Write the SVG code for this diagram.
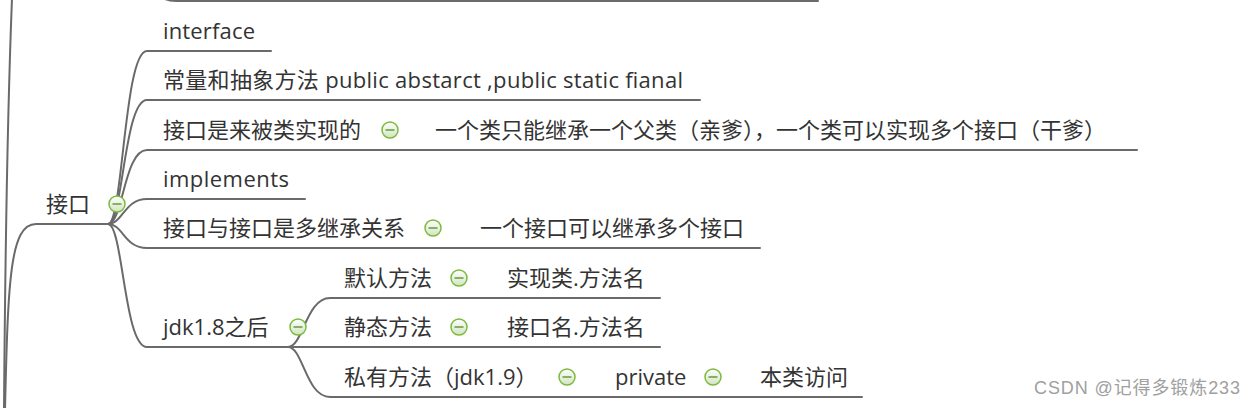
<svg xmlns="http://www.w3.org/2000/svg" width="1257" height="408" viewBox="0 0 1257 408">
<defs>
<linearGradient id="ig" x1="0" y1="0" x2="0" y2="1">
<stop offset="0" stop-color="#ffffff"/>
<stop offset="1" stop-color="#d2e4c0"/>
</linearGradient>
<g id="icon">
<circle cx="0" cy="0" r="8" fill="url(#ig)" stroke="#7cba3f" stroke-width="1.5"/>
<line x1="-4.5" y1="0" x2="4.5" y2="0" stroke="#4f8f25" stroke-width="1.3"/>
</g>
</defs>
<style>
.t{font-family:"Open Sans","Noto Sans CJK SC",sans-serif;font-size:22px;fill:#333333}
.c{fill:none;stroke:#6a6a6a;stroke-width:2;stroke-linecap:round}
.w{font-family:"Liberation Sans","Noto Sans CJK SC",sans-serif;font-size:18px;fill:#a0a0a0}
</style>
<rect width="1257" height="408" fill="#ffffff"/>
<g id="connectors">
<path class="c" d="M12 -2 Q6 150 4 410"/>
<path class="c" d="M158 -6 Q164 1 176 1 L818 1"/>
<path class="c" d="M5 410 C8 280 10 224 36 224 L108 224"/>
<path class="c" d="M108 224 C123 224 124 51 147 51 L271 51"/>
<path class="c" d="M108 224 C123 224 124 100 147 100 L700 100"/>
<path class="c" d="M108 224 C123 224 124 150 147 150 L1137 150"/>
<path class="c" d="M108 224 C123 224 124 199 147 199 L305 199"/>
<path class="c" d="M108 224 C123 224 124 248 147 248 L760 248"/>
<path class="c" d="M108 224 C123 224 124 347 147 347 L288 347"/>
<path class="c" d="M288 347 C303 347 306 298 330 298 L660 298"/>
<path class="c" d="M288 347 L660 347"/>
<path class="c" d="M288 347 C303 347 306 397 330 397 L862 397"/>
</g>
<g id="node-root">
<text class="t" x="46" y="212">接口</text>
<use href="#icon" x="117" y="204"/>
</g>
<g id="node-interface">
<text class="t" x="163" y="39" textLength="92">interface</text>
</g>
<g id="node-const">
<text class="t" x="163" y="88" textLength="520">常量和抽象方法 public abstarct ,public static fianal</text>
</g>
<g id="node-impl-by-class">
<text class="t" x="163" y="138">接口是来被类实现的</text>
<use href="#icon" x="390" y="130"/>
</g>
<g id="node-impl-by-class-detail">
<text class="t" x="435" y="138">一个类只能继承一个父类（亲爹），一个类可以实现多个接口（干爹）</text>
</g>
<g id="node-implements">
<text class="t" x="163" y="187" textLength="126">implements</text>
</g>
<g id="node-multi">
<text class="t" x="163" y="236">接口与接口是多继承关系</text>
<use href="#icon" x="433" y="228"/>
</g>
<g id="node-multi-detail">
<text class="t" x="480" y="236">一个接口可以继承多个接口</text>
</g>
<g id="node-jdk18">
<text class="t" x="163" y="335">jdk1.8之后</text>
<use href="#icon" x="298" y="327"/>
</g>
<g id="node-default">
<text class="t" x="344" y="286">默认方法</text>
<use href="#icon" x="459" y="278"/>
</g>
<g id="node-default-detail">
<text class="t" x="507" y="286">实现类.方法名</text>
</g>
<g id="node-static">
<text class="t" x="344" y="335">静态方法</text>
<use href="#icon" x="459" y="327"/>
</g>
<g id="node-static-detail">
<text class="t" x="507" y="335">接口名.方法名</text>
</g>
<g id="node-private">
<text class="t" x="344" y="385">私有方法（jdk1.9）</text>
<use href="#icon" x="567" y="377"/>
</g>
<g id="node-private-kw">
<text class="t" x="615" y="385">private</text>
<use href="#icon" x="713" y="377"/>
</g>
<g id="node-private-detail">
<text class="t" x="760" y="385">本类访问</text>
</g>
<text class="w" x="1034" y="394" textLength="206">CSDN @记得多锻炼233</text>
</svg>
